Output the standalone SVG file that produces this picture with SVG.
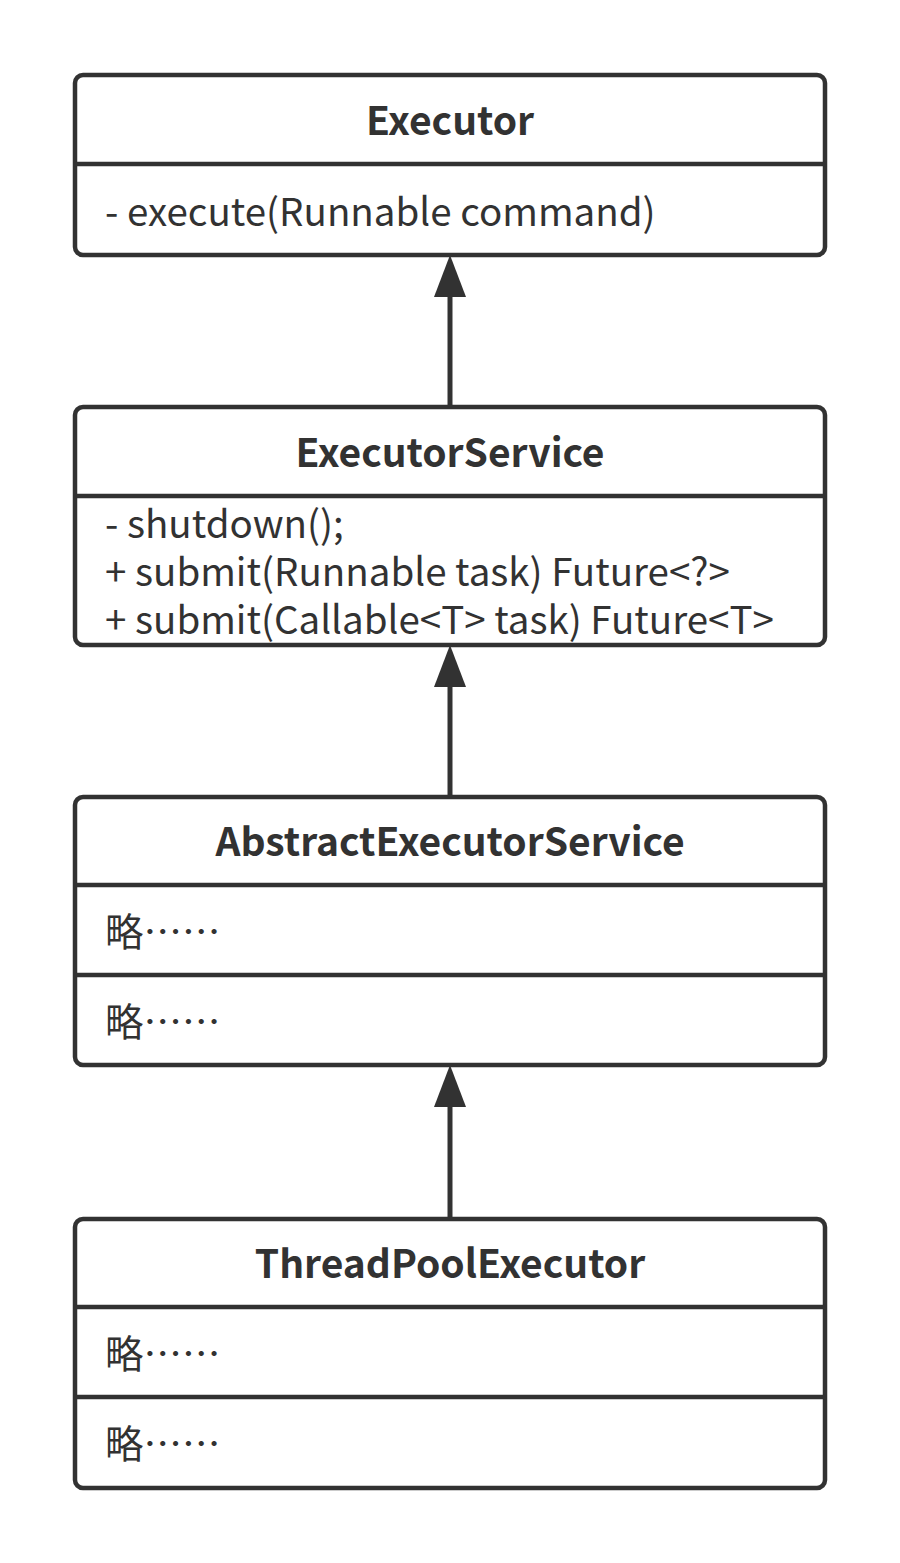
<svg xmlns="http://www.w3.org/2000/svg" width="900" height="1563" viewBox="0 0 900 1563">
<style>
.box{fill:#fff;stroke:#323232;stroke-width:4.5}
.div{stroke:#323232;stroke-width:4.5}
.t{font-family:"Noto Sans CJK SC","Noto Sans",sans-serif;font-weight:bold;font-size:39px;fill:#323232;text-anchor:middle}
.m{font-family:"Noto Sans CJK SC","Noto Sans",sans-serif;font-size:38.5px;fill:#323232}
.c{stroke:#323232;stroke-width:5;fill:none}
.h{fill:#323232}
</style>
<g id="connectors">
<path class="c" d="M450 407V290"/><path class="h" d="M450 255L466 297H434Z"/>
<path class="c" d="M450 797V680"/><path class="h" d="M450 645L466 687H434Z"/>
<path class="c" d="M450 1219V1100"/><path class="h" d="M450 1065L466 1107H434Z"/>
</g>
<g id="executor"><rect class="box" x="75" y="75" width="750" height="180" rx="8"/><line class="div" x1="75" y1="164" x2="825" y2="164"/><text class="t" x="450" y="135">Executor</text><text class="m" x="105" y="226">- execute(Runnable command)</text></g>
<g id="executorService"><rect class="box" x="75" y="407" width="750" height="238" rx="8"/><line class="div" x1="75" y1="496" x2="825" y2="496"/><text class="t" x="450" y="467">ExecutorService</text><text class="m" x="105" y="538">- shutdown();</text><text class="m" x="105" y="586">+ submit(Runnable task) Future&lt;?&gt;</text><text class="m" x="105" y="634">+ submit(Callable&lt;T&gt; task) Future&lt;T&gt;</text></g>
<g id="abstractExecutorService"><rect class="box" x="75" y="797" width="750" height="268" rx="8"/><line class="div" x1="75" y1="885" x2="825" y2="885"/><line class="div" x1="75" y1="975" x2="825" y2="975"/><text class="t" x="450" y="856">AbstractExecutorService</text><text class="m" x="105" y="946">略……</text><text class="m" x="105" y="1036">略……</text></g>
<g id="threadPoolExecutor"><rect class="box" x="75" y="1219" width="750" height="269" rx="8"/><line class="div" x1="75" y1="1307" x2="825" y2="1307"/><line class="div" x1="75" y1="1397" x2="825" y2="1397"/><text class="t" x="450" y="1278">ThreadPoolExecutor</text><text class="m" x="105" y="1368">略……</text><text class="m" x="105" y="1458">略……</text></g>
</svg>
